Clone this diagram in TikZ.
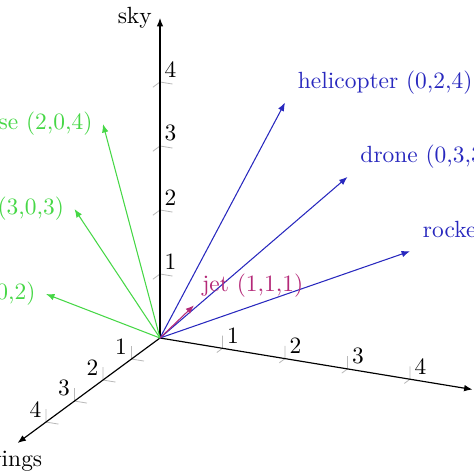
\documentclass[tikz,border=0pt]{standalone}
\usetikzlibrary{arrows.meta}
\definecolor{wingc}{RGB}{70,215,70}
\definecolor{flyc}{RGB}{40,40,190}
\definecolor{jetc}{RGB}{180,40,120}
\begin{document}
\begin{tikzpicture}[
  axis/.style={black, line width=0.5pt, -{Latex[length=3.6pt,width=2.8pt]}},
  vec/.style={line width=0.45pt, -{Latex[length=3.6pt,width=2.8pt]}},
  tickmark/.style={gray!55, line width=0.35pt},
  ticklab/.style={inner sep=1.8pt},
  flylab/.style={above right, text=flyc, xshift=2pt},
  winglab/.style={left, text=wingc, xshift=-1pt},
]
\useasboundingbox (0,0) rectangle (202.4pt,202.4pt);
\begin{scope}[shift={(68.32pt,58.07pt)}, x={(-12.17pt,-8.97pt)}, y={(26.69pt,-4.40pt)}, z={(0pt,27.33pt)}]
  \coordinate (O) at (0,0,0);
  \coordinate (AX) at (5,0,0);
  \coordinate (AY) at (0,5,0);
  \coordinate (AZ) at (0,0,5);
  % ticks
  \foreach \i in {1,...,4} {
    \draw[tickmark] (\i,0.2,0) -- (\i,0,0) -- (\i,0,0.2);
    \draw[tickmark] (0.2,\i,0) -- (0,\i,0) -- (0,\i,0.2);
    \draw[tickmark] (0.25,0,\i) -- (0,0,\i) -- (0,0.2,\i);
    \node[ticklab, anchor=south east] (tx\i) at (\i,0,0) {\i};
    \node[ticklab, anchor=south west] (ty\i) at (0,\i,0) {\i};
    \node[ticklab, anchor=south west] (tz\i) at (0,0,\i) {\i};
  }
  % axes
  \draw[axis] (O) -- (AX);
  \draw[axis] (O) -- (AY);
  \draw[axis] (O) -- (AZ);
  \node[below, xshift=-1.7pt] (lx) at (AX) {wings};
  \node[left] (lz) at (AZ) {sky};
  % vectors
  \coordinate (heli) at (0,2,4);
  \coordinate (drone) at (0,3,3);
  \coordinate (rocket) at (0,4,2);
  \coordinate (jet) at (1,1,1);
  \coordinate (goose) at (2,0,4);
  \coordinate (eagle) at (3,0,3);
  \coordinate (pigeon) at (4,0,2);
  \draw[vec, flyc] (O) -- (heli);
  \draw[vec, flyc] (O) -- (drone);
  \draw[vec, flyc] (O) -- (rocket);
  \draw[vec, wingc] (O) -- (goose);
  \draw[vec, wingc] (O) -- (eagle);
  \draw[vec, wingc] (O) -- (pigeon);
  \draw[vec, jetc] (O) -- (jet);
  \node[flylab] (lheli) at (heli) {helicopter (0,2,4)};
  \node[flylab] (ldrone) at (drone) {drone (0,3,3)};
  \node[flylab] (lrocket) at (rocket) {rocket (0,4,2)};
  \node[above right, text=jetc] (ljet) at (jet) {jet (1,1,1)};
  \node[winglab] (lgoose) at (goose) {goose (2,0,4)};
  \node[winglab] (leagle) at (eagle) {eagle (3,0,3)};
  \node[winglab] (lpigeon) at (pigeon) {pigeon (4,0,2)};
\end{scope}
\end{tikzpicture}
\end{document}
